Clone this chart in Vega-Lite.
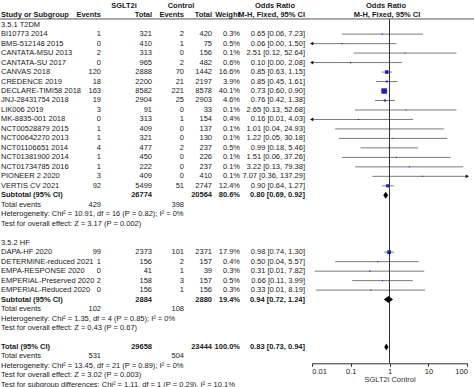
{
  "$schema": "https://vega.github.io/schema/vega-lite/v6.json",
  "width": 474,
  "height": 387,
  "padding": 0,
  "autosize": {"type": "none"},
  "background": "white",
  "config": {
    "view": {"stroke": null},
    "text": {"font": "Liberation Sans, Arial", "fontSize": 7.5, "color": "#1a1a1a", "baseline": "middle"},
    "axis": {"labelFont": "Liberation Sans, Arial", "titleFont": "Liberation Sans, Arial"}
  },
  "datasets": {
    "rows": [
      {"r": 1, "label": "Study or Subgroup", "e1": "Events", "n1": "Total", "e2": "Events", "n2": "Total", "w": "Weight", "ci": "M-H, Fixed, 95% CI", "b": true, "kind": "head"},
      {"r": 2, "label": "3.5.1 T2DM", "b": false, "kind": "group"},
      {"r": 3, "label": "BI10773 2014", "e1": "1", "n1": "321", "e2": "2", "n2": "420", "w": "0.3%", "ci": "0.65 [0.06, 7.23]", "b": false, "kind": "study", "or": 0.65, "lo": 0.06, "hi": 7.23, "wn": 0.3},
      {"r": 4, "label": "BMS-512148 2015", "e1": "0", "n1": "410", "e2": "1", "n2": "75", "w": "0.5%", "ci": "0.06 [0.00, 1.50]", "b": false, "kind": "study", "or": 0.06, "lo": 0.0025, "hi": 1.5, "wn": 0.5},
      {"r": 5, "label": "CANTATA-MSU 2013", "e1": "2", "n1": "313", "e2": "0", "n2": "156", "w": "0.1%", "ci": "2.51 [0.12, 52.64]", "b": false, "kind": "study", "or": 2.51, "lo": 0.12, "hi": 52.64, "wn": 0.1},
      {"r": 6, "label": "CANTATA-SU 2017", "e1": "0", "n1": "965", "e2": "2", "n2": "482", "w": "0.6%", "ci": "0.10 [0.00, 2.08]", "b": false, "kind": "study", "or": 0.1, "lo": 0.0048, "hi": 2.08, "wn": 0.6},
      {"r": 7, "label": "CANVAS 2018", "e1": "120", "n1": "2888", "e2": "70", "n2": "1442", "w": "16.6%", "ci": "0.85 [0.63, 1.15]", "b": false, "kind": "study", "or": 0.85, "lo": 0.63, "hi": 1.15, "wn": 16.6},
      {"r": 8, "label": "CREDENCE 2019", "e1": "18", "n1": "2200", "e2": "21", "n2": "2197", "w": "3.9%", "ci": "0.85 [0.45, 1.61]", "b": false, "kind": "study", "or": 0.85, "lo": 0.45, "hi": 1.61, "wn": 3.9},
      {"r": 9, "label": "DECLARE-TIMI58 2018", "e1": "163", "n1": "8582", "e2": "221", "n2": "8578", "w": "40.1%", "ci": "0.73 [0.60, 0.90]", "b": false, "kind": "study", "or": 0.73, "lo": 0.6, "hi": 0.9, "wn": 40.1},
      {"r": 10, "label": "JNJ-28431754 2018", "e1": "19", "n1": "2904", "e2": "25", "n2": "2903", "w": "4.6%", "ci": "0.76 [0.42, 1.38]", "b": false, "kind": "study", "or": 0.76, "lo": 0.42, "hi": 1.38, "wn": 4.6},
      {"r": 11, "label": "LIK006 2019", "e1": "3", "n1": "91", "e2": "0", "n2": "33", "w": "0.1%", "ci": "2.65 [0.13, 52.68]", "b": false, "kind": "study", "or": 2.65, "lo": 0.13, "hi": 52.68, "wn": 0.1},
      {"r": 12, "label": "MK-8835-001 2018", "e1": "0", "n1": "313", "e2": "1", "n2": "154", "w": "0.4%", "ci": "0.16 [0.01, 4.03]", "b": false, "kind": "study", "or": 0.16, "lo": 0.0066, "hi": 4.03, "wn": 0.4},
      {"r": 13, "label": "NCT00528879 2015", "e1": "1", "n1": "409", "e2": "0", "n2": "137", "w": "0.1%", "ci": "1.01 [0.04, 24.93]", "b": false, "kind": "study", "or": 1.01, "lo": 0.04, "hi": 24.93, "wn": 0.1},
      {"r": 14, "label": "NCT00642270 2013", "e1": "1", "n1": "321", "e2": "0", "n2": "130", "w": "0.1%", "ci": "1.22 [0.05, 30.18]", "b": false, "kind": "study", "or": 1.22, "lo": 0.05, "hi": 30.18, "wn": 0.1},
      {"r": 15, "label": "NCT01106651 2014", "e1": "4", "n1": "477", "e2": "2", "n2": "237", "w": "0.5%", "ci": "0.99 [0.18, 5.46]", "b": false, "kind": "study", "or": 0.99, "lo": 0.18, "hi": 5.46, "wn": 0.5},
      {"r": 16, "label": "NCT01381900 2014", "e1": "1", "n1": "450", "e2": "0", "n2": "226", "w": "0.1%", "ci": "1.51 [0.06, 37.26]", "b": false, "kind": "study", "or": 1.51, "lo": 0.06, "hi": 37.26, "wn": 0.1},
      {"r": 17, "label": "NCT01734785 2016", "e1": "1", "n1": "222", "e2": "0", "n2": "237", "w": "0.1%", "ci": "3.22 [0.13, 79.38]", "b": false, "kind": "study", "or": 3.22, "lo": 0.13, "hi": 79.38, "wn": 0.1},
      {"r": 18, "label": "PIONEER 2 2020", "e1": "3", "n1": "409", "e2": "0", "n2": "410", "w": "0.1%", "ci": "7.07 [0.36, 137.29]", "b": false, "kind": "study", "or": 7.07, "lo": 0.36, "hi": 137.29, "wn": 0.1},
      {"r": 19, "label": "VERTIS CV 2021", "e1": "92", "n1": "5499", "e2": "51", "n2": "2747", "w": "12.4%", "ci": "0.90 [0.64, 1.27]", "b": false, "kind": "study", "or": 0.9, "lo": 0.64, "hi": 1.27, "wn": 12.4},
      {"r": 20, "label": "Subtotal (95% CI)", "n1": "26774", "n2": "20564", "w": "80.6%", "ci": "0.80 [0.69, 0.92]", "b": true, "kind": "sub", "or": 0.8, "lo": 0.69, "hi": 0.92},
      {"r": 21, "label": "Total events", "e1": "429", "e2": "398", "b": false, "kind": "text"},
      {"r": 22, "label": "Heterogeneity: Chi² = 10.91, df = 16 (P = 0.82); I² = 0%", "b": false, "kind": "text"},
      {"r": 23, "label": "Test for overall effect: Z = 3.17 (P = 0.002)", "b": false, "kind": "text"},
      {"r": 25, "label": "3.5.2 HF", "b": false, "kind": "group"},
      {"r": 26, "label": "DAPA-HF 2020", "e1": "99", "n1": "2373", "e2": "101", "n2": "2371", "w": "17.9%", "ci": "0.98 [0.74, 1.30]", "b": false, "kind": "study", "or": 0.98, "lo": 0.74, "hi": 1.3, "wn": 17.9},
      {"r": 27, "label": "DETERMINE-reduced 2021", "e1": "1", "n1": "156", "e2": "2", "n2": "157", "w": "0.4%", "ci": "0.50 [0.04, 5.57]", "b": false, "kind": "study", "or": 0.5, "lo": 0.04, "hi": 5.57, "wn": 0.4},
      {"r": 28, "label": "EMPA-RESPONSE 2020", "e1": "0", "n1": "41", "e2": "1", "n2": "39", "w": "0.3%", "ci": "0.31 [0.01, 7.82]", "b": false, "kind": "study", "or": 0.31, "lo": 0.012, "hi": 7.82, "wn": 0.3},
      {"r": 29, "label": "EMPERIAL-Preserved 2020", "e1": "2", "n1": "158", "e2": "3", "n2": "157", "w": "0.5%", "ci": "0.66 [0.11, 3.99]", "b": false, "kind": "study", "or": 0.66, "lo": 0.11, "hi": 3.99, "wn": 0.5},
      {"r": 30, "label": "EMPERIAL-Reduced 2020", "e1": "0", "n1": "156", "e2": "1", "n2": "156", "w": "0.3%", "ci": "0.33 [0.01, 8.19]", "b": false, "kind": "study", "or": 0.33, "lo": 0.013, "hi": 8.19, "wn": 0.3},
      {"r": 31, "label": "Subtotal (95% CI)", "n1": "2884", "n2": "2880", "w": "19.4%", "ci": "0.94 [0.72, 1.24]", "b": true, "kind": "sub", "or": 0.94, "lo": 0.72, "hi": 1.24},
      {"r": 32, "label": "Total events", "e1": "102", "e2": "108", "b": false, "kind": "text"},
      {"r": 33, "label": "Heterogeneity: Chi² = 1.35, df = 4 (P = 0.85); I² = 0%", "b": false, "kind": "text"},
      {"r": 34, "label": "Test for overall effect: Z = 0.43 (P = 0.67)", "b": false, "kind": "text"},
      {"r": 36, "label": "Total (95% CI)", "n1": "29658", "n2": "23444", "w": "100.0%", "ci": "0.83 [0.73, 0.94]", "b": true, "kind": "sub", "or": 0.83, "lo": 0.73, "hi": 0.94},
      {"r": 37, "label": "Total events", "e1": "531", "e2": "504", "b": false, "kind": "text"},
      {"r": 38, "label": "Heterogeneity: Chi² = 13.45, df = 21 (P = 0.89); I² = 0%", "b": false, "kind": "text"},
      {"r": 39, "label": "Test for overall effect: Z = 3.02 (P = 0.003)", "b": false, "kind": "text"},
      {"r": 40, "label": "Test for subgroup differences: Chi² = 1.11, df = 1 (P = 0.29), I² = 10.1%", "b": false, "kind": "text"}
    ]
  },
  "resolve": {"scale": {"x": "independent"}},
  "layer": [
    {
      "layer": [
        {
          "data": {"values": [{}]},
          "mark": {"type": "rule", "color": "#555555", "strokeWidth": 1},
          "encoding": {
            "x": {"datum": 0, "type": "quantitative", "scale": {"domain": [0, 474], "nice": false, "zero": false}, "axis": null},
            "x2": {"datum": 474},
            "y": {"datum": 1.4, "type": "quantitative", "scale": {"domain": [-0.6, 40.22], "reverse": true, "nice": false, "zero": false}, "axis": null}
          }
        },
        {
          "data": {"values": [{}]},
          "mark": {"type": "text", "text": "SGLT2i", "align": "center", "fontWeight": "bold"},
          "encoding": {"x": {"datum": 124, "type": "quantitative"}, "y": {"datum": 0, "type": "quantitative"}}
        },
        {
          "data": {"values": [{}]},
          "mark": {"type": "text", "text": "Control", "align": "center", "fontWeight": "bold"},
          "encoding": {"x": {"datum": 181, "type": "quantitative"}, "y": {"datum": 0, "type": "quantitative"}}
        },
        {
          "data": {"values": [{}]},
          "mark": {"type": "text", "text": "Odds Ratio", "align": "center", "fontWeight": "bold"},
          "encoding": {"x": {"datum": 275, "type": "quantitative"}, "y": {"datum": 0, "type": "quantitative"}}
        },
        {
          "data": {"values": [{}]},
          "mark": {"type": "text", "text": "Odds Ratio", "align": "center", "fontWeight": "bold"},
          "encoding": {"x": {"datum": 386, "type": "quantitative"}, "y": {"datum": 0, "type": "quantitative"}}
        },
        {
          "data": {"values": [{}]},
          "mark": {"type": "text", "text": "M-H, Fixed, 95% CI", "align": "center", "fontWeight": "bold"},
          "encoding": {"x": {"datum": 387, "type": "quantitative"}, "y": {"datum": 1, "type": "quantitative"}}
        },
        {
          "data": {"name": "rows"},
          "transform": [{"filter": "isValid(datum.label)"}],
          "mark": {"type": "text", "align": "left", "fontWeight": {"expr": "datum.b ? 'bold' : 'normal'"}},
          "encoding": {"x": {"datum": 1, "type": "quantitative"}, "y": {"field": "r", "type": "quantitative"}, "text": {"field": "label"}}
        },
        {
          "data": {"name": "rows"},
          "transform": [{"filter": "isValid(datum.e1)"}],
          "mark": {"type": "text", "align": "right", "fontWeight": {"expr": "datum.b ? 'bold' : 'normal'"}},
          "encoding": {"x": {"datum": 101, "type": "quantitative"}, "y": {"field": "r", "type": "quantitative"}, "text": {"field": "e1"}}
        },
        {
          "data": {"name": "rows"},
          "transform": [{"filter": "isValid(datum.n1)"}],
          "mark": {"type": "text", "align": "right", "fontWeight": {"expr": "datum.b ? 'bold' : 'normal'"}},
          "encoding": {"x": {"datum": 152, "type": "quantitative"}, "y": {"field": "r", "type": "quantitative"}, "text": {"field": "n1"}}
        },
        {
          "data": {"name": "rows"},
          "transform": [{"filter": "isValid(datum.e2)"}],
          "mark": {"type": "text", "align": "right", "fontWeight": {"expr": "datum.b ? 'bold' : 'normal'"}},
          "encoding": {"x": {"datum": 184, "type": "quantitative"}, "y": {"field": "r", "type": "quantitative"}, "text": {"field": "e2"}}
        },
        {
          "data": {"name": "rows"},
          "transform": [{"filter": "isValid(datum.n2)"}],
          "mark": {"type": "text", "align": "right", "fontWeight": {"expr": "datum.b ? 'bold' : 'normal'"}},
          "encoding": {"x": {"datum": 212, "type": "quantitative"}, "y": {"field": "r", "type": "quantitative"}, "text": {"field": "n2"}}
        },
        {
          "data": {"name": "rows"},
          "transform": [{"filter": "isValid(datum.w)"}],
          "mark": {"type": "text", "align": "right", "fontWeight": {"expr": "datum.b ? 'bold' : 'normal'"}},
          "encoding": {"x": {"datum": 240, "type": "quantitative"}, "y": {"field": "r", "type": "quantitative"}, "text": {"field": "w"}}
        },
        {
          "data": {"name": "rows"},
          "transform": [{"filter": "isValid(datum.ci)"}],
          "mark": {"type": "text", "align": "right", "fontWeight": {"expr": "datum.b ? 'bold' : 'normal'"}},
          "encoding": {"x": {"datum": 305, "type": "quantitative"}, "y": {"field": "r", "type": "quantitative"}, "text": {"field": "ci"}}
        }
      ]
    },
    {
      "layer": [
        {
          "data": {"name": "rows"},
          "transform": [{"filter": "datum.kind == 'study'"}],
          "mark": {"type": "rule", "color": "#7a7a7a", "strokeWidth": 1},
          "encoding": {
            "x": {"field": "lo", "type": "quantitative",
                  "scale": {"type": "log", "domain": [0.01, 100], "range": [311.7, 467.3], "clamp": true, "nice": false},
                  "axis": {"orient": "bottom", "values": [0.01, 0.1, 1, 10, 100], "format": "~g", "offset": -23.7, "grid": false,
                           "domainColor": "#333333", "tickColor": "#333333", "tickSize": 3, "labelFontSize": 7.5, "labelColor": "#222222",
                           "labelPadding": 1, "title": "SGLT2i    Control", "titleFontSize": 7.5, "titleFontWeight": "normal", "titleColor": "#333333", "titlePadding": 1}},
            "x2": {"field": "hi"},
            "y": {"field": "r", "type": "quantitative"}
          }
        },
        {
          "data": {"values": [{}]},
          "mark": {"type": "rule", "color": "#333333", "strokeWidth": 1},
          "encoding": {
            "x": {"datum": 1, "type": "quantitative"},
            "y": {"datum": 1.4, "type": "quantitative"},
            "y2": {"datum": 37.69}
          }
        },
        {
          "data": {"name": "rows"},
          "transform": [{"filter": "datum.kind == 'study'"}],
          "mark": {"type": "square", "color": "#1f1fbf", "opacity": 1},
          "encoding": {
            "x": {"field": "or", "type": "quantitative"},
            "y": {"field": "r", "type": "quantitative"},
            "size": {"field": "wn", "type": "quantitative", "scale": {"domain": [0, 40.1], "range": [1, 30]}, "legend": null}
          }
        },
        {
          "data": {"name": "rows"},
          "transform": [{"filter": "datum.kind == 'study' && datum.lo < 0.01"}],
          "mark": {"type": "point", "shape": "triangle-left", "filled": true, "color": "#111111", "size": 14, "opacity": 1},
          "encoding": {
            "x": {"field": "lo", "type": "quantitative"},
            "y": {"field": "r", "type": "quantitative"}
          }
        },
        {
          "data": {"name": "rows"},
          "transform": [{"filter": "datum.kind == 'study' && datum.hi > 100"}],
          "mark": {"type": "point", "shape": "triangle-right", "filled": true, "color": "#111111", "size": 14, "opacity": 1},
          "encoding": {
            "x": {"field": "hi", "type": "quantitative"},
            "y": {"field": "r", "type": "quantitative"}
          }
        },
        {
          "data": {"name": "rows"},
          "transform": [{"filter": "datum.kind == 'sub'"}],
          "mark": {"type": "point", "filled": true, "color": "#000000", "size": 49, "opacity": 1},
          "encoding": {
            "x": {"field": "or", "type": "quantitative"},
            "y": {"field": "r", "type": "quantitative"},
            "shape": {"field": "r", "type": "nominal", "legend": null,
                      "scale": {"domain": [20, 31, 36], "range": ["M0,-1L0.7,0L0,1L-0.7,0Z", "M0,-1L1.31,0L0,1L-1.31,0Z", "M0,-1L0.61,0L0,1L-0.61,0Z"]}}
          }
        }
      ]
    }
  ]
}
